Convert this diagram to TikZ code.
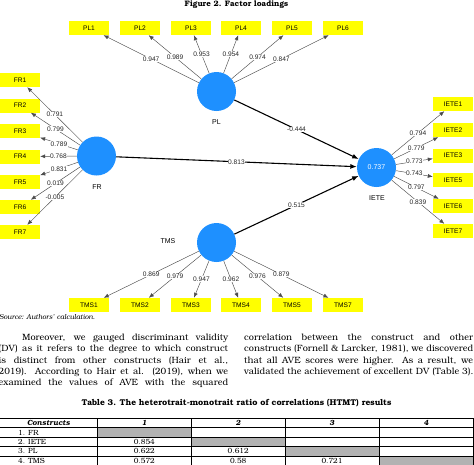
\documentclass[tikz,border=0pt]{standalone}
\usepackage[T1]{fontenc}
\usepackage{fontspec}
\newfontfamily\plsfont{Liberation Sans}
\newcommand{\bkfont}{\fontencoding{T1}\fontfamily{pbk}\selectfont}
\newcommand{\jline}[2]{\makebox[#1][s]{#2}}
\usetikzlibrary{arrows.meta}
\definecolor{lvblue}{RGB}{30,144,255}
\definecolor{indyellow}{RGB}{255,255,0}
\definecolor{cellgray}{RGB}{178,178,178}
\tikzset{
	ind/.style={fill=indyellow, minimum width=40pt, minimum height=14pt, inner sep=0pt, font=\plsfont\fontsize{6.6}{7}\selectfont},
	lv/.style={circle, fill=lvblue, minimum size=39pt, inner sep=0pt, font=\plsfont\fontsize{7}{8}\selectfont, text=white},
	lvname/.style={font=\plsfont\fontsize{7}{8}\selectfont, text=black},
	load/.style={draw=black!70, line width=0.45pt, -{Latex[length=5pt,width=4pt]}},
	struct/.style={draw=black, line width=1.1pt, -{Latex[length=6.5pt,width=5pt]}},
	coef/.style={midway, fill=white, inner sep=0.5pt, font=\plsfont\fontsize{6.6}{7}\selectfont, text=black!85},
	bodytxt/.style={anchor=base west, inner sep=0pt, font=\bkfont\fontsize{9.1}{11}\selectfont},
	tabtxt/.style={anchor=base, inner sep=0pt, font=\bkfont\fontsize{7.5}{8}\selectfont},
}
\begin{document}
\begin{tikzpicture}[x=1pt, y=-1pt]
	\useasboundingbox (0,0) rectangle (474,464);

	\node[anchor=base, font=\bkfont\bfseries\fontsize{7.9}{9}\selectfont] (figcap) at (236.5,6.5) {Figure 2. Factor loadings};

	% latent variables
	\node[lv] (FR) at (96.5,156) {};
	\node[lv] (PL) at (216.5,91.5) {};
	\node[lv] (TMS) at (216.5,242.5) {};
	\node[lv] (IETE) at (376.5,167.5) {0.737};
	\node[lvname] (FRname) at (97,187) {FR};
	\node[lvname] (PLname) at (216.5,122) {PL};
	\node[lvname] (TMSname) at (168,241) {TMS};
	\node[lvname] (IETEname) at (377,198) {IETE};

	% indicators
	\foreach \i/\x in {1/89, 2/140, 3/191, 4/241, 5/292, 6/343}
		\node[ind] (PL\i) at (\x,28) {PL\i};
	\foreach \i/\x in {1/89, 2/140, 3/191, 4/241, 5/292, 7/343}
		\node[ind] (TMS\i) at (\x,305) {TMS\i};
	\foreach \i/\y in {1/80, 2/105.5, 3/131, 4/156.5, 5/182, 6/207, 7/232}
		\node[ind] (FR\i) at (20,\y) {FR\i};
	\foreach \i/\y in {1/104, 2/130, 3/155.5, 5/180, 6/206, 7/231}
		\node[ind] (IETE\i) at (453,\y) {IETE\i};

	% outer loadings
	\foreach \i/\v in {1/0.947, 2/0.989, 3/0.953, 4/0.954, 5/0.974, 6/0.847}
		\draw[load] (PL) -- (PL\i) node[coef] {\v};
	\foreach \i/\v in {1/0.869, 2/0.979, 3/0.947, 4/0.962, 5/0.976, 7/0.879}
		\draw[load] (TMS) -- (TMS\i) node[coef] {\v};
	\foreach \i/\v in {1/0.791, 2/0.799, 3/0.789, 4/0.768, 5/0.831, 6/0.019, 7/-0.005}
		\draw[load] (FR) -- (FR\i) node[coef] {\v};
	\foreach \i/\v in {1/0.794, 2/0.779, 3/0.773, 5/0.743, 6/0.797, 7/0.839}
		\draw[load] (IETE) -- (IETE\i) node[coef] {\v};

	% path coefficients
	\draw[struct] (FR) -- (IETE) node[coef] {0.813};
	\draw[struct] (PL) -- (IETE) node[coef] {-0.444};
	\draw[struct] (TMS) -- (IETE) node[coef] {0.515};

	\node[anchor=base west, inner sep=0pt, font=\bkfont\itshape\fontsize{7}{8}\selectfont] (source) at (-1,319.5) {Source: Authors' calculation.};

	% body text
	\node[bodytxt] (txtL1) at (22,340.5) {\jline{206pt}{Moreover, we gauged discriminant validity}};
	\node[bodytxt] (txtL2) at (-1.5,351.8) {\jline{229.5pt}{(DV) as it refers to the degree to which construct}};
	\node[bodytxt] (txtL3) at (-1.5,363.2) {\jline{229.5pt}{is distinct from other constructs (Hair et al.,}};
	\node[bodytxt] (txtL4) at (-1.5,374.5) {\jline{229.5pt}{2019). According to Hair et al. (2019), when we}};
	\node[bodytxt] (txtL5) at (-1.5,385.8) {\jline{229.5pt}{examined the values of AVE with the squared}};
	\node[bodytxt] (txtR1) at (244,340.5) {\jline{229pt}{correlation between the construct and other}};
	\node[bodytxt] (txtR2) at (244,351.8) {\jline{229pt}{constructs (Fornell \& Larcker, 1981), we discovered}};
	\node[bodytxt] (txtR3) at (244,363.2) {\jline{229pt}{that all AVE scores were higher. As a result, we}};
	\node[bodytxt] (txtR4) at (244,374.5) {validated the achievement of excellent DV (Table 3).};

	% table 3
	\node[anchor=base, inner sep=0pt, font=\bkfont\bfseries\fontsize{8.4}{9}\selectfont] (tabcap) at (236.5,405) {Table 3. The heterotrait-monotrait ratio of correlations (HTMT) results};
	\fill[cellgray] (97.3,427.7) rectangle (191.3,437);
	\fill[cellgray] (191.3,437) rectangle (285,446.7);
	\fill[cellgray] (285,446.7) rectangle (379,456);
	\fill[cellgray] (379,456) rectangle (473.3,466);
	\foreach \y in {418, 427.7, 437, 446.7, 456}
		\draw[line width=0.5pt] (-1,\y) -- (474,\y);
	\foreach \x in {-0.5, 97.3, 191.3, 285, 379}
		\draw[line width=0.5pt] (\x,418) -- (\x,466);
	\draw[line width=1.6pt] (473.3,418) -- (473.3,466);
	\node[tabtxt, font=\bkfont\bfseries\itshape\fontsize{7.5}{8}\selectfont] (hdr0) at (48.5,425.5) {Constructs};
	\foreach \c/\x in {1/144.3, 2/238.2, 3/332, 4/426.2}
		\node[tabtxt, font=\bkfont\bfseries\itshape\fontsize{7.5}{8}\selectfont] (hdr\c) at (\x,425.5) {\c};
	\foreach \r/\n/\y in {1/FR/435, 2/IETE/444.5, 3/PL/453.8, 4/TMS/463.2}
		\node[tabtxt, anchor=base west] (row\r) at (18,\y) {\r. \n};
	\node[tabtxt] (c21) at (144.3,444.5) {0.854};
	\node[tabtxt] (c31) at (144.3,453.8) {0.622};
	\node[tabtxt] (c32) at (238.2,453.8) {0.612};
	\node[tabtxt] (c41) at (144.3,463.2) {0.572};
	\node[tabtxt] (c42) at (238.2,463.2) {0.58};
	\node[tabtxt] (c43) at (332,463.2) {0.721};
\end{tikzpicture}
\end{document}
